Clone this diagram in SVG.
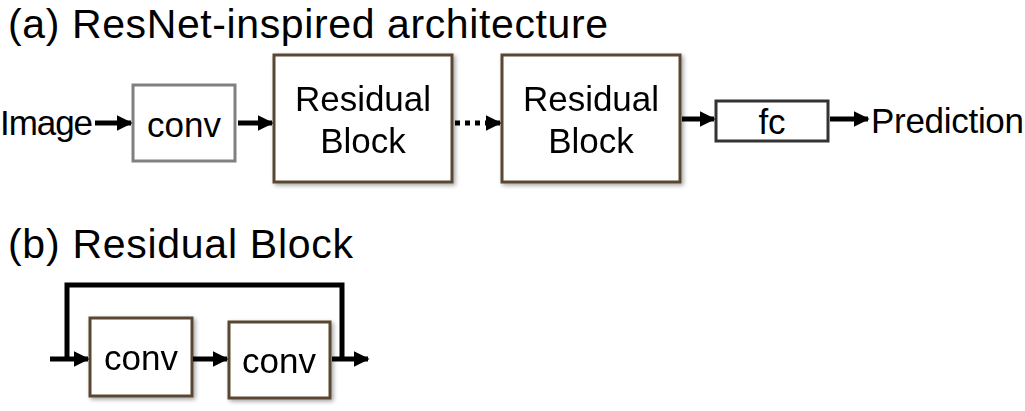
<svg xmlns="http://www.w3.org/2000/svg" width="1025" height="411" viewBox="0 0 1025 411">
<style>
text{font-family:"Liberation Sans",Arial,sans-serif;fill:#000}
.t{font-size:41px}
.n{font-size:35px;text-anchor:middle}
.b{fill:#fff;stroke:#5a4630;stroke-width:3}
.g{fill:#fff;stroke:#808080;stroke-width:3}
.c{stroke:#000;stroke-width:5;fill:none}
</style>
<defs>
<marker id="a" viewBox="0 0 10 10" refX="9" refY="5" markerWidth="3.2" markerHeight="3.2" orient="auto"><path d="M0,0L10,5L0,10z" fill="#000"/></marker>
<filter id="s"><feDropShadow dx="2" dy="2" stdDeviation="2" flood-opacity="0.35"/></filter>
</defs>
<rect width="1025" height="411" fill="#fff"/>
<text class="t" x="8" y="38" textLength="600">(a) ResNet-inspired architecture</text>
<text class="t" x="8" y="258" textLength="345">(b) Residual Block</text>
<g id="image"><text class="n" x="0" y="135" style="text-anchor:start" textLength="93">Image</text></g>
<g id="conv-a"><rect class="g" x="133" y="85" width="102" height="76"/><text class="n" x="184" y="137">conv</text></g>
<g id="rb1" filter="url(#s)"><rect class="b" x="274" y="55" width="178" height="127"/><text class="n" x="363" y="111">Residual</text><text class="n" x="363" y="153">Block</text></g>
<g id="rb2" filter="url(#s)"><rect class="b" x="502" y="55" width="178" height="127"/><text class="n" x="591" y="111">Residual</text><text class="n" x="591" y="153">Block</text></g>
<g id="fc"><rect x="716" y="101" width="112" height="40" fill="#fff" stroke="#333" stroke-width="3"/><text class="n" x="772" y="134">fc</text></g>
<g id="prediction"><text class="n" x="871" y="133" style="text-anchor:start" textLength="153">Prediction</text></g>
<g id="conv-b1" filter="url(#s)"><rect class="b" x="90" y="318" width="102" height="78"/><text class="n" x="141" y="370">conv</text></g>
<g id="conv-b2" filter="url(#s)"><rect class="b" x="229" y="322" width="101" height="76"/><text class="n" x="279" y="373">conv</text></g>
<g id="connectors">
<line class="c" x1="95" y1="123" x2="131" y2="123" marker-end="url(#a)"/>
<line class="c" x1="238" y1="123" x2="272" y2="123" marker-end="url(#a)"/>
<line class="c" x1="455" y1="123" x2="500" y2="123" stroke-dasharray="5 5" marker-end="url(#a)"/>
<line class="c" x1="682" y1="119" x2="714" y2="119" marker-end="url(#a)"/>
<line class="c" x1="830" y1="119" x2="868" y2="119" marker-end="url(#a)"/>
<line class="c" x1="50" y1="359" x2="88" y2="359" marker-end="url(#a)"/>
<line class="c" x1="193" y1="359" x2="227" y2="359" marker-end="url(#a)"/>
<path class="c" d="M67,359V285H342V359"/>
<line class="c" x1="332" y1="359" x2="368" y2="359" marker-end="url(#a)"/>
</g>
</svg>
